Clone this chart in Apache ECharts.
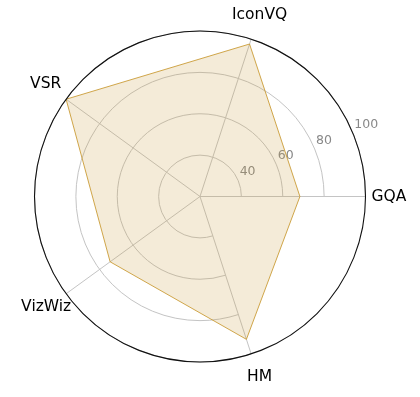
<!DOCTYPE html>
<html>
<head>
<meta charset="utf-8">
<script src="https://cdn.jsdelivr.net/npm/echarts@6/dist/echarts.min.js"></script>
<style>
html,body{margin:0;padding:0;background:#fff;}
#chart{width:420px;height:397px;}
</style>
</head>
<body>
<div id="chart"></div>
<script>
const categories = ['GQA', 'IconVQ', 'VSR', 'VizWiz', 'HM'];
const scores = [68.3, 97.5, 100, 73.7, 92.6];
const radialMin = 20;
const radialMax = 100;
const radialStep = 20;
const radialTickLabels = [40, 60, 80, 100];

// per-label nudges (padding) to mimic centred matplotlib tick labels
const labelPadding = {
  'GQA': [0, 0, 0, 0],
  'IconVQ': [0, 0, 10, -21],
  'VSR': [0, 0, 4, 0],
  'VizWiz': [2, -10, 0, 0],
  'HM': [9, 0, 0, -6]
};

const chart = echarts.init(document.getElementById('chart'), null, {renderer: 'canvas'});
const center = [200, 196.5];
const R = 165.5;
const FONT = 'DejaVu Sans';

const n = categories.length;
const step = 360 / n;
const closed = scores.map((v, i) => [v, i * step]);
closed.push([scores[0], n * step]);

chart.setOption({
  animation: false,
  backgroundColor: '#ffffff',
  polar: [
    {center: center, radius: R},
    {center: center, radius: R},
    {center: center, radius: R}
  ],
  angleAxis: [
    {
      polarIndex: 0,
      type: 'category',
      data: categories.map(c => ({value: c, textStyle: {padding: labelPadding[c]}})),
      boundaryGap: false,
      startAngle: 0,
      clockwise: false,
      axisLine: {show: false},
      axisTick: {show: false},
      axisLabel: {show: true, margin: 6, color: '#000', fontFamily: FONT, fontSize: 15.5},
      splitLine: {show: true, lineStyle: {color: '#c4c4c4', width: 1}},
      z: 1
    },
    {
      polarIndex: 1,
      type: 'value',
      min: 0, max: 360,
      startAngle: 22.5,
      clockwise: false,
      axisLine: {show: false},
      axisTick: {show: false},
      axisLabel: {show: false},
      splitLine: {show: false}
    },
    {
      polarIndex: 2,
      type: 'value',
      min: 0, max: 360,
      startAngle: 0,
      clockwise: false,
      axisLine: {show: true, lineStyle: {color: '#111111', width: 1.1}},
      axisTick: {show: false},
      axisLabel: {show: false},
      splitLine: {show: false},
      z: 3
    }
  ],
  radiusAxis: [
    {
      polarIndex: 0,
      type: 'value',
      min: radialMin, max: radialMax, interval: radialStep,
      axisLine: {show: false},
      axisTick: {show: false},
      axisLabel: {show: false},
      splitLine: {show: true, lineStyle: {color: '#c4c4c4', width: 1}}
    },
    {
      polarIndex: 1,
      type: 'value',
      min: radialMin, max: radialMax, interval: radialStep,
      axisLine: {show: false},
      axisTick: {show: false},
      splitLine: {show: false},
      axisLabel: {
        show: true,
        margin: 9.4,
        align: 'left',
        verticalAlign: 'middle',
        padding: [0, 0, 0, 5],
        color: '#888888',
        fontFamily: FONT,
        fontSize: 12.5,
        formatter: v => radialTickLabels.indexOf(v) >= 0 ? String(v) : ''
      }
    },
    {
      polarIndex: 2,
      type: 'value',
      min: radialMin, max: radialMax,
      show: false
    }
  ],
  series: [
    {
      type: 'line',
      coordinateSystem: 'polar',
      polarIndex: 2,
      data: closed,
      clip: false,
      showSymbol: false,
      symbol: 'none',
      lineStyle: {color: 'rgba(200,150,45,0.85)', width: 1},
      areaStyle: {color: 'rgba(205,162,72,0.3)'},
      z: 2
    }
  ]
});
</script>
</body>
</html>
